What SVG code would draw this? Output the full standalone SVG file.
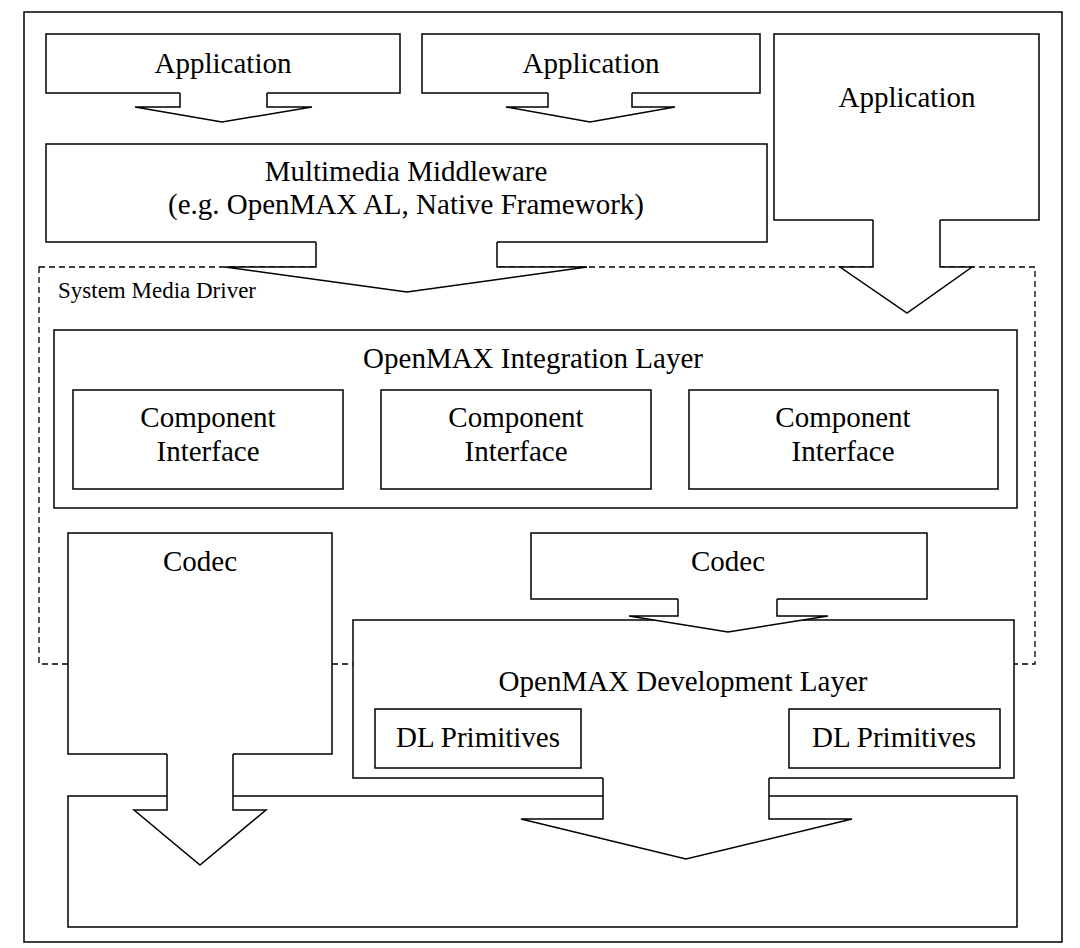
<svg xmlns="http://www.w3.org/2000/svg" width="1080" height="948" viewBox="0 0 1080 948">
<style>
.b{fill:#fff;stroke:#000;stroke-width:1.5}
.f{fill:#fff;stroke:none}
.s{fill:none;stroke:#000;stroke-width:1.5}
text{font-family:"Liberation Serif","Times New Roman",serif;font-size:29px;fill:#000;text-anchor:middle}
.sm{font-size:23px;text-anchor:start}
</style>
<rect width="1080" height="948" fill="#fff"/>
<rect x="24" y="12" width="1038" height="930" class="s" stroke="#444"/>
<g id="smd"><rect x="39" y="267" width="996" height="397" fill="none" stroke="#000" stroke-width="1.3" stroke-dasharray="6,4"/><text class="sm" x="58" y="298">System Media Driver</text></g>
<g id="app1"><rect x="46" y="34" width="354" height="59" class="b"/><text x="223" y="73">Application</text></g>
<g id="app2"><rect x="422" y="34" width="338" height="59" class="b"/><text x="591" y="73">Application</text></g>
<g id="app3"><rect x="774" y="34" width="265" height="186" class="b"/><text x="907" y="107">Application</text></g>
<g id="mw"><rect x="46" y="144" width="721" height="98" class="b"/><text x="406" y="181">Multimedia Middleware</text><text x="406" y="214">(e.g. OpenMAX AL, Native Framework)</text></g>
<g id="il"><rect x="54" y="330" width="963" height="178" class="b"/><text x="533" y="368">OpenMAX Integration Layer</text>
<rect x="73" y="390" width="270" height="99" class="b"/><text x="208" y="427">Component</text><text x="208" y="461">Interface</text>
<rect x="381" y="390" width="270" height="99" class="b"/><text x="516" y="427">Component</text><text x="516" y="461">Interface</text>
<rect x="689" y="390" width="309" height="99" class="b"/><text x="843" y="427">Component</text><text x="843" y="461">Interface</text></g>
<g id="bottom"><rect x="68" y="796" width="949" height="131" class="b"/></g>
<g id="codec1"><rect x="68" y="533" width="264" height="221" class="b"/><text x="200" y="571">Codec</text></g>
<g id="codec2"><rect x="531" y="533" width="396" height="66" class="b"/><text x="728" y="571">Codec</text></g>
<g id="dev"><rect x="353" y="620" width="661" height="158" class="b"/><text x="683" y="691">OpenMAX Development Layer</text>
<rect x="375" y="709" width="206" height="59" class="b"/><text x="478" y="747">DL Primitives</text>
<rect x="789" y="709" width="211" height="59" class="b"/><text x="894" y="747">DL Primitives</text></g>
<g id="connectors">
<polygon class="f" points="180,92 267,92 267,107 312,107 222,122 135,107 180,107"/><polyline class="s" points="180,93 180,107 135,107 222,122 312,107 267,107 267,93"/>
<polygon class="f" points="548,92 632,92 632,107 675,107 590,122 506,107 548,107"/><polyline class="s" points="548,93 548,107 506,107 590,122 675,107 632,107 632,93"/>
<polygon class="f" points="873,219 940,219 940,267 972,267 907,313 840,267 873,267"/><polyline class="s" points="873,220 873,267 840,267 907,313 972,267 940,267 940,220"/>
<polygon class="f" points="316,241 497,241 497,267 587,267 407,292 225,267 316,267"/><polyline class="s" points="316,242 316,267 225,267 407,292 587,267 497,267 497,242"/>
<polygon class="f" points="678,598 777,598 777,616 828,616 728,632 629,616 678,616"/><polyline class="s" points="678,599 678,616 629,616 728,632 828,616 777,616 777,599"/>
<polygon class="f" points="167,753 233,753 233,810 266,810 200,865 134,810 167,810"/><polyline class="s" points="167,754 167,810 134,810 200,865 266,810 233,810 233,754"/>
<polygon class="f" points="603,777 769,777 769,819 852,819 686,859 521,819 603,819"/><polyline class="s" points="603,778 603,819 521,819 686,859 852,819 769,819 769,778"/>
</g>
</svg>
